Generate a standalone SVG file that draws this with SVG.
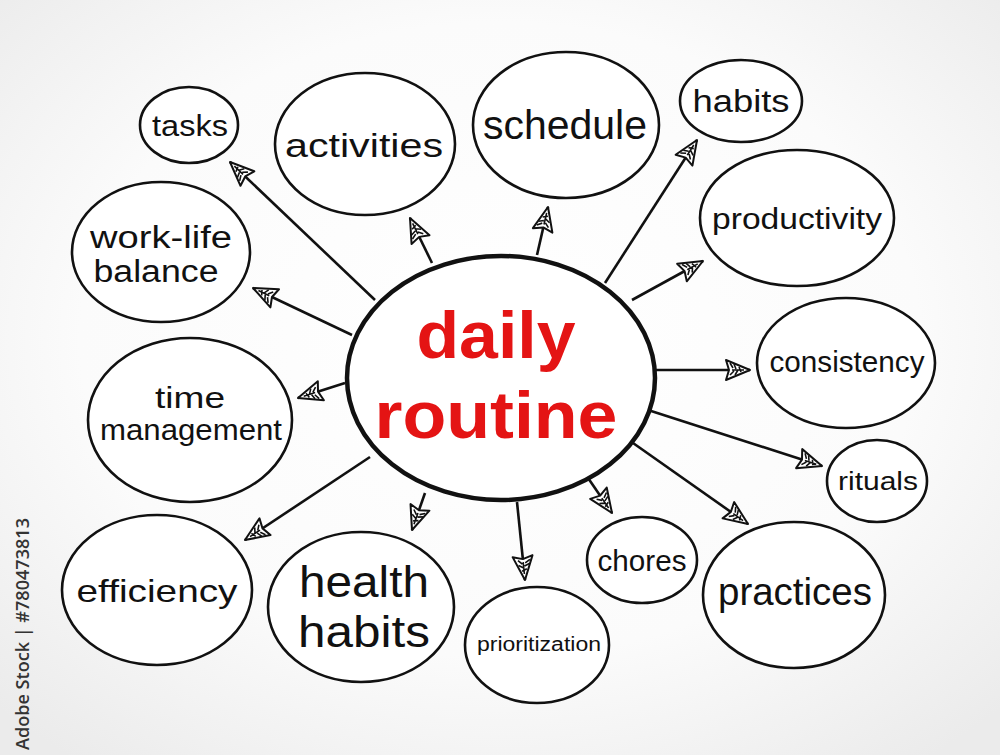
<svg xmlns="http://www.w3.org/2000/svg" width="1000" height="755" viewBox="0 0 1000 755">
<defs>
<radialGradient id="bg" cx="50%" cy="45%" r="70%">
<stop offset="0" stop-color="#ffffff"/>
<stop offset="0.6" stop-color="#fbfbfb"/>
<stop offset="1" stop-color="#ebebeb"/>
</radialGradient>
<marker id="ah" viewBox="0 0 28 24" refX="26" refY="12" markerWidth="28" markerHeight="24" markerUnits="userSpaceOnUse" orient="auto">
<path d="M26,12 L2,2 L5,12 L2,22 Z" fill="#fff" stroke="#111" stroke-width="2" stroke-linejoin="round"/>
<path d="M6,5 L9,10 M10,6 L12,11 M6,17 L10,13 M11,17 L14,12 M15,9 L17,14 M8,12 L20,12" stroke="#111" stroke-width="1.6" fill="none"/>
</marker>
<style>
.n{fill:#fff;stroke:#111;stroke-width:2.6}
.t{font-family:"Liberation Sans",Arial,sans-serif;fill:#111;text-anchor:middle}
.c{stroke:#111;stroke-width:2.6;fill:none;marker-end:url(#ah)}
</style>
</defs>
<rect width="1000" height="755" fill="url(#bg)"/>
<text x="0" y="0" transform="translate(29,750) rotate(-90)" font-family="'Open Sans','Liberation Sans',sans-serif" font-size="18" font-weight="600" fill="#333" textLength="232" lengthAdjust="spacingAndGlyphs">Adobe Stock | #780473813</text>
<g id="connectors">
<line class="c" x1="375" y1="300" x2="230" y2="162"/>
<line class="c" x1="352" y1="335" x2="253" y2="288"/>
<line class="c" x1="432" y1="263" x2="410" y2="218"/>
<line class="c" x1="537" y1="255" x2="548" y2="207"/>
<line class="c" x1="605" y1="283" x2="697" y2="140"/>
<line class="c" x1="632" y1="300" x2="703" y2="261"/>
<line class="c" x1="655" y1="370" x2="750" y2="370"/>
<line class="c" x1="648" y1="410" x2="822" y2="466"/>
<line class="c" x1="633" y1="443" x2="748" y2="524"/>
<line class="c" x1="586" y1="475" x2="612" y2="513"/>
<line class="c" x1="517" y1="502" x2="525" y2="580"/>
<line class="c" x1="425" y1="493" x2="412" y2="530"/>
<line class="c" x1="370" y1="457" x2="245" y2="540"/>
<line class="c" x1="345" y1="383" x2="298" y2="398"/>
</g>
<g id="center">
<ellipse cx="501" cy="378" rx="154" ry="122" fill="#fff" stroke="#111" stroke-width="4.5"/>
<text class="t" x="496" y="358" font-size="66" font-weight="bold" style="fill:#e41414" textLength="159" lengthAdjust="spacingAndGlyphs">daily</text>
<text class="t" x="496" y="438" font-size="66" font-weight="bold" style="fill:#e41414" textLength="243" lengthAdjust="spacingAndGlyphs">routine</text>
</g>
<g id="tasks"><ellipse class="n" cx="189" cy="125" rx="49" ry="38"/><text class="t" x="190" y="136" font-size="30" textLength="76" lengthAdjust="spacingAndGlyphs">tasks</text></g>
<g id="activities"><ellipse class="n" cx="365" cy="144" rx="90" ry="71"/><text class="t" x="364" y="157" font-size="34" textLength="158" lengthAdjust="spacingAndGlyphs">activities</text></g>
<g id="schedule"><ellipse class="n" cx="566" cy="125" rx="93" ry="73"/><text class="t" x="565" y="139" font-size="40" textLength="164" lengthAdjust="spacingAndGlyphs">schedule</text></g>
<g id="habits"><ellipse class="n" cx="741" cy="101" rx="61" ry="41"/><text class="t" x="741" y="112" font-size="31" textLength="97" lengthAdjust="spacingAndGlyphs">habits</text></g>
<g id="productivity"><ellipse class="n" cx="797" cy="218" rx="97" ry="68"/><text class="t" x="797" y="229" font-size="30" textLength="170" lengthAdjust="spacingAndGlyphs">productivity</text></g>
<g id="consistency"><ellipse class="n" cx="846" cy="363" rx="89" ry="65"/><text class="t" x="847" y="372" font-size="29" textLength="155" lengthAdjust="spacingAndGlyphs">consistency</text></g>
<g id="rituals"><ellipse class="n" cx="877" cy="481" rx="50" ry="41"/><text class="t" x="878" y="490" font-size="25" textLength="80" lengthAdjust="spacingAndGlyphs">rituals</text></g>
<g id="practices"><ellipse class="n" cx="794" cy="595" rx="91" ry="73"/><text class="t" x="795" y="605" font-size="38" textLength="154" lengthAdjust="spacingAndGlyphs">practices</text></g>
<g id="chores"><ellipse class="n" cx="642" cy="560" rx="55" ry="43"/><text class="t" x="642" y="571" font-size="30" textLength="89" lengthAdjust="spacingAndGlyphs">chores</text></g>
<g id="prioritization"><ellipse class="n" cx="537" cy="645" rx="72" ry="58"/><text class="t" x="539" y="651" font-size="20" textLength="124" lengthAdjust="spacingAndGlyphs">prioritization</text></g>
<g id="health-habits"><ellipse class="n" cx="361" cy="607" rx="93" ry="75"/><text class="t" x="364" y="597" font-size="44" textLength="130" lengthAdjust="spacingAndGlyphs">health</text><text class="t" x="364" y="647" font-size="44" textLength="132" lengthAdjust="spacingAndGlyphs">habits</text></g>
<g id="efficiency"><ellipse class="n" cx="157" cy="590" rx="95" ry="75"/><text class="t" x="157" y="602" font-size="32" textLength="161" lengthAdjust="spacingAndGlyphs">efficiency</text></g>
<g id="time-management"><ellipse class="n" cx="190" cy="420" rx="102" ry="82"/><text class="t" x="190" y="408" font-size="29" textLength="70" lengthAdjust="spacingAndGlyphs">time</text><text class="t" x="191" y="440" font-size="29" textLength="182" lengthAdjust="spacingAndGlyphs">management</text></g>
<g id="work-life-balance"><ellipse class="n" cx="161" cy="252" rx="89" ry="70"/><text class="t" x="161" y="248" font-size="31" textLength="142" lengthAdjust="spacingAndGlyphs">work-life</text><text class="t" x="156" y="282" font-size="31" textLength="125" lengthAdjust="spacingAndGlyphs">balance</text></g>
</svg>
